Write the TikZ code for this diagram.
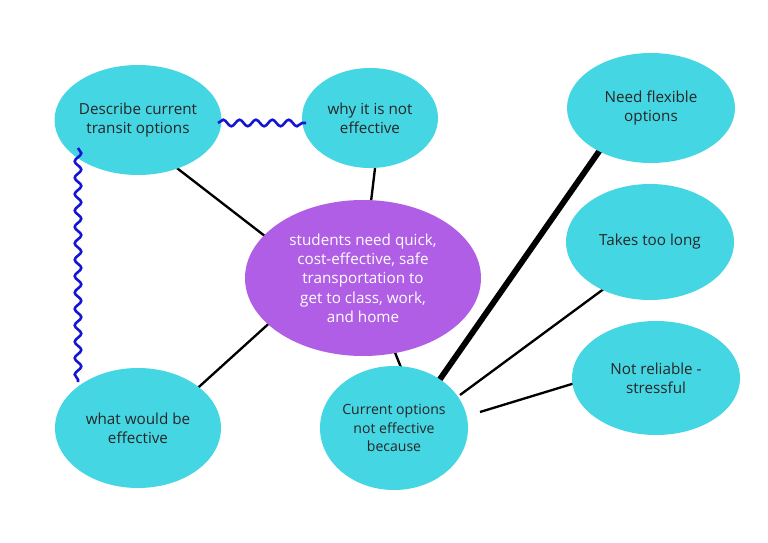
\documentclass[tikz,border=0pt]{standalone}
\usepackage{fontspec}
\setmainfont{Open Sans}
\usetikzlibrary{shapes.geometric,decorations.pathmorphing}
\definecolor{cy}{HTML}{45D6E3}
\definecolor{pu}{HTML}{B15EE6}
\definecolor{wv}{HTML}{1414D2}
\begin{document}
\begin{tikzpicture}[x=0.03cm,y=-0.03cm,
 bub/.style={ellipse,fill=cy,inner sep=0pt,align=center,font=\fontsize{13}{16.5}\selectfont,text=black!85},
 ln/.style={line width=2pt},
 wave/.style={wv,line width=2.2pt,decorate,decoration={snake,amplitude=2.8pt,segment length=14pt}}]
\useasboundingbox (0,0) rectangle (768,543);
\fill[white] (0,0) rectangle (768,543);
% connector end points (inside the bubbles)
\coordinate (d1) at (160,155); \coordinate (m1) at (270,240);
\coordinate (w1) at (376,160); \coordinate (m2) at (370,210);
\coordinate (m3) at (392,345); \coordinate (c1) at (406,380);
\coordinate (m4) at (275,318); \coordinate (e1) at (190,395);
\coordinate (c2) at (438,382); \coordinate (n1) at (600,150);
\coordinate (c3) at (460,395); \coordinate (t1) at (605,288);
\coordinate (c4) at (480,412); \coordinate (r1) at (585,380);
\coordinate (wa) at (218,123); \coordinate (wb) at (306,123);
\coordinate (wc) at (78,148); \coordinate (wd) at (78,382);
\draw[ln] (d1) -- (m1);
\draw[ln] (w1) -- (m2);
\draw[ln] (m3) -- (c1);
\draw[ln] (m4) -- (e1);
\draw[line width=5pt] (c2) -- (n1);
\draw[ln] (c3) -- (t1);
\draw[ln] (c4) -- (r1);
\node[bub,minimum width=166*0.03cm,minimum height=110*0.03cm] (d) at (138,120) {Describe current\\transit options};
\node[bub,minimum width=136*0.03cm,minimum height=100*0.03cm] (w) at (370,118) {why it is not\\effective};
\node[bub,minimum width=168*0.03cm,minimum height=110*0.03cm] (n) at (651,108) {Need flexible\\options};
\node[bub,minimum width=168*0.03cm,minimum height=116*0.03cm] (t) at (650,242) {Takes too long};
\node[bub,minimum width=168*0.03cm,minimum height=114*0.03cm] (r) at (656,378) {Not reliable -\\stressful};
\node[bub,minimum width=166*0.03cm,minimum height=120*0.03cm] (e) at (138,428) {what would be\\effective};
\node[bub,font=\fontsize{12}{15.5}\selectfont,minimum width=148*0.03cm,minimum height=124*0.03cm] (c) at (394,428) {Current options\\not effective\\because};
\node[bub,fill=pu,text=white,minimum width=236*0.03cm,minimum height=156*0.03cm] (m) at (363,278) {students need quick,\\cost-effective, safe\\transportation to\\get to class, work,\\and home};
\draw[wave] (wa) -- (wb);
\draw[wave] (wc) -- (wd);
\end{tikzpicture}
\end{document}
